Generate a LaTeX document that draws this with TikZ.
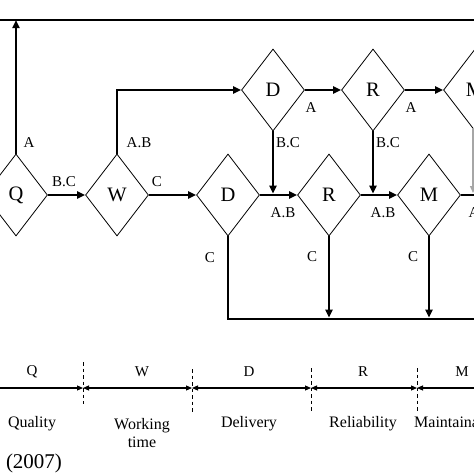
\documentclass[tikz,border=0pt]{standalone}
\usepackage{fontspec}
\setmainfont{Liberation Serif}
\usetikzlibrary{shapes.geometric,arrows.meta}
\begin{document}
\begin{tikzpicture}[x=1pt,y=-1pt,
  dia/.style={draw, shape=diamond, line width=0.8pt, minimum width=63pt, minimum height=82pt, inner sep=0pt, font=\fontsize{20.5}{22}\selectfont},
  flow/.style={line width=2.8pt, line join=miter, -{Triangle[length=8pt,width=7pt]}},
  flowplain/.style={line width=2.8pt, line join=miter},
  lab/.style={font=\fontsize{15}{16}\selectfont, inner sep=0pt},
  axlab/.style={font=\fontsize{16}{18}\selectfont, inner sep=0pt},
  axletter/.style={font=\fontsize{15}{16}\selectfont, inner sep=0pt},
  axis/.style={line width=1.1pt, >={Triangle[length=6pt,width=5pt]}},
  divider/.style={dash pattern=on 3.5pt off 3pt, line width=0.8pt}
]
\useasboundingbox (0,0) rectangle (474,474);
% diamonds
\node[dia] (Q)  at (16,195)  {Q};
\node[dia] (W)  at (117,195) {W};
\node[dia] (lD) at (228,195) {D};
\node[dia] (lR) at (329,195) {R};
\node[dia] (lM) at (429,195) {M};
\node[dia] (uD) at (273,90)  {D};
\node[dia] (uR) at (373,90)  {R};
\node[dia] (uM) at (475,90)  {M};
% top line
\coordinate (topL) at (0,20);
\coordinate (topR) at (474,20);
\draw[line width=1.8pt] (topL) -- (topR);
\draw[flow] (Q.north) -- (Q.north |- topL);
% flows
\draw[flow] (Q.east) -- (W.west);
\draw[flow] (W.east) -- (lD.west);
\draw[flow] (W.north) |- (uD.west);
\draw[flow] (uD.east) -- (uR.west);
\draw[flow] (uR.east) -- (uM.west);
\draw[flow] (lD.east) -- (lR.west);
\draw[flow] (lR.east) -- (lM.west);
\coordinate (rightE) at (474,195);
\draw[flowplain] (lM.east) -- (rightE);
\draw[flow, shorten >=1.4pt] (uD.south) -- (uD.south |- lD.east);
\draw[flow, shorten >=1.4pt] (uR.south) -- (uR.south |- lR.east);
\coordinate (gTop) at (473,128);
\coordinate (gBot) at (473,193);
\draw[line width=1.4pt, black!35, -{Triangle[length=7pt,width=6pt]}] (gTop) -- (gBot);
% bottom line
\coordinate (botR) at (474,319);
\draw[flowplain] (lD.south) |- (botR);
\draw[flow, shorten >=1.4pt] (lR.south) -- (lR.south |- botR);
\draw[flow, shorten >=1.4pt] (lM.south) -- (lM.south |- botR);
% flow labels
\node[lab] (a1) at (29,143) {A};
\node[lab] (a2) at (139,143) {A.B};
\node[lab] (a3) at (64,182) {B.C};
\node[lab] (a4) at (157,182) {C};
\node[lab] (a5) at (311,108) {A};
\node[lab] (a6) at (411,108) {A};
\node[lab] (a7) at (288,143) {B.C};
\node[lab] (a8) at (388,143) {B.C};
\node[lab] (a9) at (283,213) {A.B};
\node[lab] (a10) at (383,213) {A.B};
\node[lab] (a11) at (474,213) {A};
\node[lab] (a12) at (210,258) {C};
\node[lab] (a13) at (312,257) {C};
\node[lab] (a14) at (413,257) {C};
% axis
\coordinate (x0) at (0,388);
\coordinate (x1) at (83,388);
\coordinate (x2) at (192,388);
\coordinate (x3) at (311,388);
\coordinate (x4) at (417,388);
\coordinate (x5) at (474,388);
\draw[axis, ->] (x0) -- (x1);
\draw[axis, <->] (x1) -- (x2);
\draw[axis, <->] (x2) -- (x3);
\draw[axis, <->] (x3) -- (x4);
\draw[axis, <-] (x4) -- (x5);
\coordinate (d1a) at (83,362); \coordinate (d1b) at (83,404);
\coordinate (d2a) at (192,369); \coordinate (d2b) at (192,412);
\coordinate (d3a) at (311,368); \coordinate (d3b) at (311,412);
\coordinate (d4a) at (417,368); \coordinate (d4b) at (417,412);
\draw[divider] (d1a) -- (d1b);
\draw[divider] (d2a) -- (d2b);
\draw[divider] (d3a) -- (d3b);
\draw[divider] (d4a) -- (d4b);
\node[axletter] (t1) at (32,372) {Q};
\node[axletter] (t2) at (142,372) {W};
\node[axletter] (t3) at (249,372) {D};
\node[axletter] (t4) at (363,372) {R};
\node[axletter] (t5) at (462,372) {M};
\node[axlab] (b1) at (32,424) {Quality};
\node[axlab, align=center] (b2) at (142,433) {Working\\time};
\node[axlab] (b3) at (249,424) {Delivery};
\node[axlab] (b4) at (363,424) {Reliability};
\node[axlab, anchor=west] (b5) at (414,424) {Maintainability};
\node[font=\fontsize{21}{24}\selectfont, inner sep=0pt] (yr) at (34,463) {(2007)};
\end{tikzpicture}
\end{document}
